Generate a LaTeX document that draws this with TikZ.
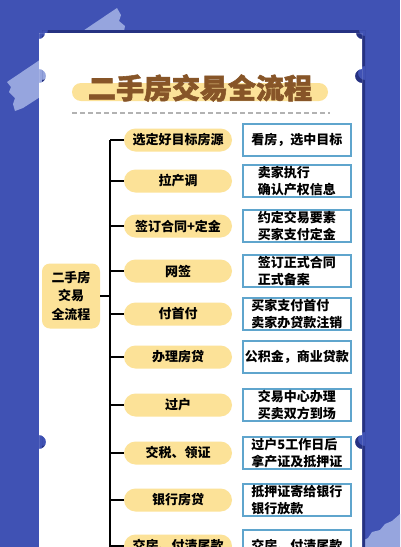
\documentclass[tikz,border=0pt]{standalone}
\usepackage{fontspec}
\setmainfont{Noto Sans CJK SC}
\newfontfamily\titlefont{Noto Sans CJK SC}[BoldFeatures={FakeBold=2}]
\usepackage{tikz}
\usetikzlibrary{positioning}

\definecolor{pagebg}{RGB}{64,82,180}
\definecolor{cardshade}{RGB}{38,50,130}
\definecolor{tape}{RGB}{150,165,222}
\definecolor{hilite}{RGB}{252,226,152}
\definecolor{titlebrown}{RGB}{135,85,40}
\definecolor{boxline}{RGB}{95,165,205}

\newcommand{\cardpath}{(39,33) rectangle (362,560) (39,33) circle[radius=6] (362,33) circle[radius=6] (39,76) circle[radius=7] (362,76) circle[radius=7] (39,442) circle[radius=7] (362,442) circle[radius=7]}

\begin{document}
\begin{tikzpicture}[x=1pt,y=-1pt,
		stepbox/.style={fill=hilite,rounded corners=11.5pt,minimum width=108pt,minimum height=23pt,inner sep=0pt,font=\fontsize{13}{18}\selectfont\bfseries},
		detail/.style={draw=boxline,line width=1.5pt,fill=white,minimum width=108pt,minimum height=32pt,inner sep=0pt,align=left,font=\fontsize{13}{17.5}\selectfont\bfseries},
		stem/.style={line width=2pt,black}]
		\useasboundingbox (0,0) rectangle (400,547);
		\clip (0,0) rectangle (400,547);
		\fill[pagebg] (0,0) rectangle (400,547);
		\fill[tape] (117,8)--(121,15)--(119,21)--(125,26)--(124,31)--(132,38)--(23,108)--(15,111)--(13,104)--(15,98)--(9,92)--(11,87)--(7,82)--cycle;
		\fill[tape] (356,547)--(362,541)--(368,538)--(372,532)--(380,530)--(385,524)--(392,521)--(400,514)--(400,547)--cycle;
		\begin{scope}[shift={(3,-3)}]
			\clip (39,33) rectangle (362,560);
			\fill[cardshade,even odd rule] \cardpath;
		\end{scope}
		\begin{scope}
			\clip (39,33) rectangle (362,560);
			\fill[white,even odd rule] \cardpath;
		\end{scope}
		\node[fill=hilite,rounded corners=9pt,minimum width=256pt,minimum height=18pt,inner sep=0pt] (band) at (200,92) {};
		\node[text=titlebrown,font=\fontsize{28}{30}\selectfont\titlefont\bfseries] (title) at (200,88) {二手房交易全流程};
		\coordinate (ruleL) at (72,113);
		\coordinate (ruleR) at (330,113);
		\draw[gray!60,line width=1.5pt,dash pattern=on 5pt off 3pt] (ruleL)--(ruleR);

		\node[fill=hilite,rounded corners=8pt,minimum width=58pt,minimum height=65pt,inner sep=0pt,align=center,font=\fontsize{13}{18.5}\selectfont\bfseries] (root) at (71,296) {二手房\\交易\\全流程};
		\coordinate (spinetop) at (110,140);
		\coordinate (spinebot) at (110,560);
		\draw[stem] (spinetop)--(spinebot);
		\draw[stem] (root.east)--(root.east -| spinetop);

		\node[stepbox] (s1) at (178,140) {选定好目标房源};
		\node[stepbox] (s2) at (178,181) {拉产调};
		\node[stepbox] (s3) at (178,226) {签订合同+定金};
		\node[stepbox] (s4) at (178,271) {网签};
		\node[stepbox] (s5) at (178,314) {付首付};
		\node[stepbox] (s6) at (178,357) {办理房贷};
		\node[stepbox] (s7) at (178,405) {过户};
		\node[stepbox] (s8) at (178,453) {交税、领证};
		\node[stepbox] (s9) at (178,500) {银行房贷};
		\node[stepbox] (s10) at (178,546) {交房、付清尾款};

		\node[detail,right=10pt of s1] (d1) {看房，选中目标};
		\node[detail,right=10pt of s2] (d2) {卖家执行\\确认产权信息};
		\node[detail,right=10pt of s3] (d3) {约定交易要素\\买家支付定金};
		\node[detail,right=10pt of s4] (d4) {签订正式合同\\正式备案};
		\node[detail,right=10pt of s5] (d5) {买家支付首付\\卖家办贷款注销};
		\node[detail,right=10pt of s6] (d6) {公积金，商业贷款};
		\node[detail,right=10pt of s7] (d7) {交易中心办理\\买卖双方到场};
		\node[detail,right=10pt of s8] (d8) {过户5工作日后\\拿产证及抵押证};
		\node[detail,right=10pt of s9] (d9) {抵押证寄给银行\\银行放款};
		\node[detail,right=10pt of s10] (d10) {交房、付清尾款};

		\draw[stem] (s1.west)--(s1.west -| spinetop);
		\draw[stem] (s2.west)--(s2.west -| spinetop);
		\draw[stem] (s3.west)--(s3.west -| spinetop);
		\draw[stem] (s4.west)--(s4.west -| spinetop);
		\draw[stem] (s5.west)--(s5.west -| spinetop);
		\draw[stem] (s6.west)--(s6.west -| spinetop);
		\draw[stem] (s7.west)--(s7.west -| spinetop);
		\draw[stem] (s8.west)--(s8.west -| spinetop);
		\draw[stem] (s9.west)--(s9.west -| spinetop);
		\draw[stem] (s10.west)--(s10.west -| spinetop);
\end{tikzpicture}
\end{document}
